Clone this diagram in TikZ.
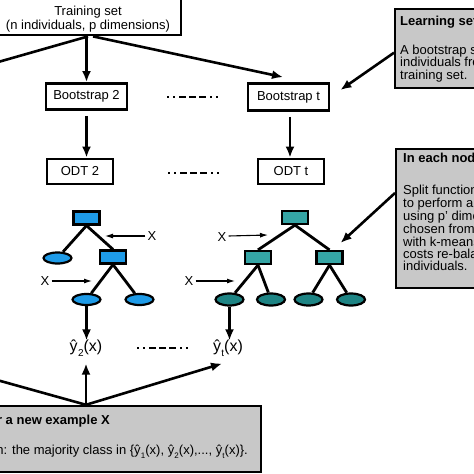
\documentclass[tikz,border=0pt]{standalone}
\usepackage{fontspec}
\setmainfont{Liberation Sans}
\usetikzlibrary{shapes.geometric,arrows.meta,calc}
\definecolor{nodeblue}{HTML}{1E9BE8}
\definecolor{tealrect}{HTML}{35A5A5}
\definecolor{tealell}{HTML}{1E8484}
\definecolor{boxgray}{HTML}{C8C8C8}
\newcommand\yhat[1]{ŷ\kern0.2pt\raisebox{-0.6ex}{\fontsize{8}{8}\selectfont #1}}
\newcommand\yhatbig[1]{ŷ\kern0.3pt\raisebox{-0.6ex}{\fontsize{10}{10}\selectfont #1}}
\begin{document}
\begin{tikzpicture}[x=1pt,y=-1pt,
  every node/.style={font=\fontsize{13}{15}\selectfont},
  box/.style={draw, line width=2.8pt, fill=white, inner sep=0pt},
  graybox/.style={draw, line width=2.4pt, fill=boxgray, inner sep=0pt},
  arr/.style={line width=2.6pt, -{Latex[length=11pt,width=9pt]}},
  thinarr/.style={line width=1.1pt, -{Latex[length=8pt,width=5pt]}},
  treeedge/.style={line width=2.8pt},
  brect/.style={draw, line width=2.2pt, fill=nodeblue, minimum width=26pt, minimum height=13pt, inner sep=0pt},
  bell/.style={ellipse, draw, line width=2.2pt, fill=nodeblue, minimum width=28pt, minimum height=11pt, inner sep=0pt},
  trect/.style={draw, line width=2.2pt, fill=tealrect, minimum width=26pt, minimum height=13pt, inner sep=0pt},
  tell/.style={ellipse, draw, line width=2.2pt, fill=tealell, minimum width=28pt, minimum height=12pt, inner sep=0pt},
  dotdash/.style={line width=2.6pt, dash pattern=on 2pt off 4pt on 2pt off 4pt on 7pt off 3pt on 7pt off 3pt on 7pt off 4pt on 2pt off 4pt on 2pt off 40pt},
  xlab/.style={inner sep=0pt}
]
\useasboundingbox (0,0) rectangle (474,474);
\clip (0,0) rectangle (474,474);

% top boxes
\node[box, minimum width=186pt, minimum height=40pt] (train) at (88,15) {};
\node[inner sep=0pt, align=center, font=\fontsize{13}{14}\selectfont] (traintxt) at (88,19.5)
      {Training set\\(n individuals, p dimensions)};
\node[box, minimum width=81pt, minimum height=26pt] (boot2) at (86.5,96.5) {Bootstrap 2};
\node[box, minimum width=81pt, minimum height=27pt] (boott) at (288.5,97) {Bootstrap t};
\node[box, minimum width=66pt, minimum height=25pt] (odt2) at (80,171.5) {ODT 2};
\node[box, minimum width=66pt, minimum height=25pt] (odtt) at (291,171.5) {ODT t};

% gray annotation boxes
\node[graybox, minimum width=200pt, minimum height=79pt, anchor=north west] (learn) at (394,8) {};
\node[inner sep=0pt, anchor=north west, align=left, font=\fontsize{13}{12.5}\selectfont] (learntxt) at (400,15.4)
  {\textbf{Learning set}\\[16.5pt]A bootstrap sample of\\individuals from the\\training set.};
\node[graybox, minimum width=200pt, minimum height=139pt, anchor=north west] (nodebox) at (395,148) {};
\node[inner sep=0pt, anchor=north west, align=left, font=\fontsize{13}{11.8}\selectfont] (nodetxt) at (403,152.4)
  {\textbf{In each node}\\[20.2pt]Split function used\\to perform a split\\using p' dimensions\\chosen from p\\with k-means\\costs re-balance\\individuals.};
\node[graybox, minimum width=322pt, minimum height=66pt] (pred) at (100,439) {};
\node[inner sep=0pt, anchor=base east, font=\fontsize{13}{15}\selectfont\bfseries] (predt1) at (110,424.6) {For a new example X};
\node[inner sep=0pt, anchor=base east] (predt2) at (248,454.6)
  {Prediction: the majority class in \{\yhat{1}(x), \yhat{2}(x),..., \yhat{t}(x)\}.};

% tree 2 (blue)
\node[brect] (r2) at (86.5,218) {};
\node[bell] (l2) at (57.5,258) {};
\node[brect] (c2) at (113,257) {};
\node[bell] (g2a) at (86.5,299.5) {};
\node[bell] (g2b) at (139.5,299.5) {};
\draw[treeedge] (r2.south) -- (l2);
\draw[treeedge] (r2.south) -- (c2.north);
\draw[treeedge] (c2.south) -- (g2a);
\draw[treeedge] (c2.south) -- (g2b);

% tree t (teal)
\node[trect] (rt) at (295,217.5) {};
\node[trect] (lt) at (258,257.5) {};
\node[trect] (ct) at (329.5,257.5) {};
\node[tell] (ga) at (229.5,299.5) {};
\node[tell] (gb) at (271,299.5) {};
\node[tell] (gc) at (308.5,299.5) {};
\node[tell] (gd) at (351,299.5) {};
\draw[treeedge] (rt.south) -- (lt.north);
\draw[treeedge] (rt.south) -- (ct.north);
\draw[treeedge] (lt.south) -- (ga);
\draw[treeedge] (lt.south) -- (gb);
\draw[treeedge] (ct.south) -- (gc);
\draw[treeedge] (ct.south) -- (gd);

% X inputs
\node[xlab] (x1) at (152,236) {X};
\node[xlab] (x2) at (45,281) {X};
\node[xlab] (x3) at (222,237) {X};
\node[xlab] (x4) at (189,281) {X};
\coordinate (x1tip) at (105,236);
\coordinate (x2tip) at (92,281);
\coordinate (x3tip) at (268,235);
\coordinate (x4tip) at (235,281);
\draw[thinarr] (x1.west) ++(-2,0) -- (x1tip);
\draw[thinarr] (x2.east) ++(2,0) -- (x2tip);
\draw[thinarr] (x3.east) ++(2,-1) -- (x3tip);
\draw[thinarr] (x4.east) ++(2,0) -- (x4tip);

% outputs
\node[inner sep=0pt, font=\fontsize{16}{18}\selectfont] (y2) at (86,348) {\yhatbig{2}(x)};
\node[inner sep=0pt, font=\fontsize{16}{18}\selectfont] (yt) at (228,348) {\yhatbig{t}(x)};

% off-picture ends
\coordinate (offL) at (-100,90);
\coordinate (offB) at (-100,353);

% connectors
\draw[line width=2.6pt] (train.south) -- (offL);
\draw[arr] (train.south -| boot2) -- (boot2.north);
\draw[arr] ([xshift=5pt]train.south) -- ([xshift=-5.5pt,yshift=5pt]boott.north);
\draw[arr] ([yshift=-5pt]boot2.south) -- (boot2.south |- odt2.north);
\draw[arr] ([yshift=-5pt,xshift=1.5pt]boott.south) -- ([xshift=-1pt]odtt.north);
\draw[arr] ([yshift=-4pt]learn.west) -- ([xshift=10pt,yshift=7pt]boott.east);
\draw[arr] ([yshift=-45pt]nodebox.north west) -- ([xshift=-3pt,yshift=7pt]ct.north east);
\draw[arr] (g2a.south) -- ([yshift=-1pt]g2a.south |- y2.north);
\draw[arr] (ga.south) -- ([yshift=-1pt]ga.south |- yt.north);
\draw[arr] (pred.north -| y2) -- ([yshift=-7pt]y2.south);
\draw[arr] (pred.north -| y2) -- ([xshift=-6pt,yshift=-7pt]yt.south);
\draw[line width=2.6pt] (pred.north -| y2) -- (offB);

% dash-dot separators
\coordinate (d1a) at (167,97); \coordinate (d1b) at (222,97);
\coordinate (d2a) at (168,173); \coordinate (d2b) at (222,173);
\coordinate (d3a) at (137,348); \coordinate (d3b) at (190,348);
\draw[dotdash] (d1a) -- (d1b);
\draw[dotdash] (d2a) -- (d2b);
\draw[dotdash] (d3a) -- (d3b);
\end{tikzpicture}
\end{document}
